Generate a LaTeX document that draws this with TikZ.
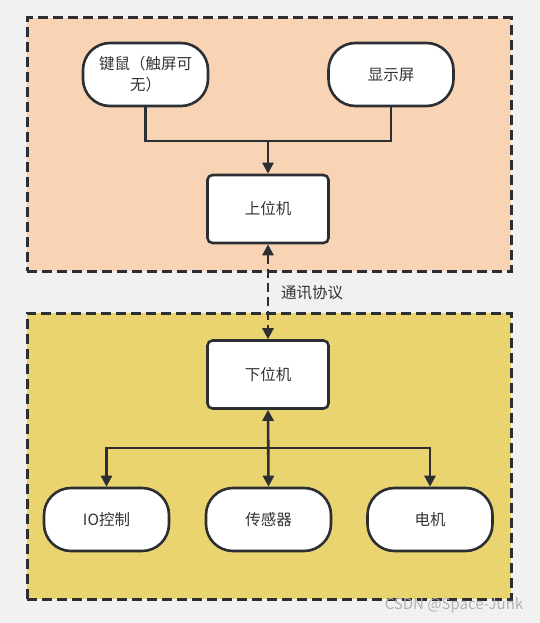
\documentclass[tikz,border=0pt]{standalone}
\usepackage{fontspec}
\setmainfont{Noto Sans CJK SC}
\usetikzlibrary{arrows.meta}
\definecolor{bgc}{HTML}{F1F1F1}
\definecolor{peach}{HTML}{F8D4B5}
\definecolor{mustard}{HTML}{E9D46F}
\definecolor{linec}{HTML}{2B2F33}
\definecolor{txt}{HTML}{333333}
\tikzset{
  groupbox/.style={draw=linec, line width=3pt, dash pattern=on 10pt off 5pt, inner sep=0pt},
  pill/.style={draw=linec, fill=white, line width=2.6pt, rounded corners=27pt, minimum width=125pt, minimum height=63pt, align=center, text=txt, font=\fontsize{15.5}{21}\selectfont, inner sep=0pt},
  boxnode/.style={draw=linec, fill=white, line width=2.6pt, rounded corners=5pt, minimum width=121pt, minimum height=68pt, align=center, text=txt, font=\fontsize{15.5}{21}\selectfont, inner sep=0pt},
  conn/.style={draw=linec, line width=2.6pt},
  tip/.style={-{Triangle[length=11pt,width=11pt]}},
  twotip/.style={{Triangle[length=11pt,width=11pt]}-{Triangle[length=11pt,width=11pt]}}
}
\begin{document}
\begin{tikzpicture}[x=1pt,y=-1pt]
\fill[bgc] (0,0) rectangle (540,623);
\useasboundingbox (0,0) rectangle (540,623);
\node[groupbox, fill=peach, minimum width=484pt, minimum height=253pt] (top) at (269,144.5) {};
\node[groupbox, fill=mustard, minimum width=484pt, minimum height=286pt] (bot) at (269,456) {};
\node[pill] (kb) at (145.5,74.5) {键鼠（触屏可\\无）};
\node[pill] (disp) at (391,74.5) {显示屏};
\node[boxnode] (up) at (268,209) {上位机};
\node[boxnode] (down) at (268,374.5) {下位机};
\node[pill] (io) at (106.5,519.5) {IO控制};
\node[pill] (sens) at (268.5,519.5) {传感器};
\node[pill] (motor) at (430,519.5) {电机};
\coordinate (j) at (268,141);
\draw[conn] (kb.south) |- (j) -| (disp.south);
\draw[conn, tip] (j) -- (up.north);
\draw[conn, twotip, dash pattern=on 9pt off 5pt] (up.south) -- (down.north);
\node[text=txt, anchor=west, font=\fontsize{15.5}{21}\selectfont, inner sep=0pt] (proto) at (281,293) {通讯协议};
\coordinate (b) at (268,448);
\draw[conn, twotip] (down.south) -- (sens.north);
\draw[conn, tip] (b) -| (io.north);
\draw[conn, tip] (b) -| (motor.north);
\node[text=black!30, font=\fontsize{15}{17}\selectfont, inner sep=0pt] (wm) at (454,605) {CSDN @Space-Junk};
\end{tikzpicture}
\end{document}
